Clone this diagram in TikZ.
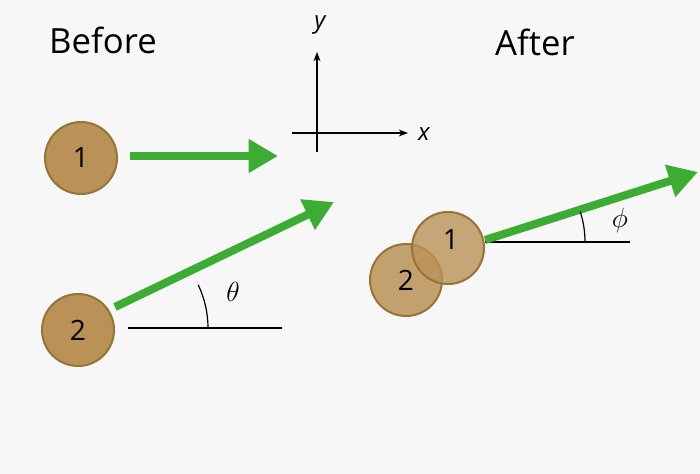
\documentclass[tikz,border=0pt]{standalone}
\usepackage{fontspec}
\setmainfont{Open Sans}
\usetikzlibrary{arrows.meta}
\definecolor{ball}{RGB}{186,146,88}
\definecolor{ballb}{RGB}{150,115,55}
\definecolor{grn}{RGB}{60,172,52}
\tikzset{
  ballst/.style={circle,draw=ballb,line width=1.5pt,fill=ball,minimum size=54pt,inner sep=0pt,font=\fontsize{21}{21}\selectfont},
  garrow/.style={grn,line width=6pt,-{Triangle[length=22pt,width=24pt]}},
  thin/.style={black,line width=0.9pt},
  lbl/.style={font=\fontsize{26}{26}\selectfont}
}
\begin{document}
\begin{tikzpicture}[x=0.75pt,y=-0.75pt]
\useasboundingbox[fill=gray!6] (0,0) rectangle (700,474);
\node[lbl] (before) at (103,40) {Before};
\node[lbl] (after) at (535,42) {After};
% axes
\coordinate (yt) at (317,52);
\coordinate (xt) at (408,133);
\coordinate (xl) at (292,133);
\coordinate (yb) at (317,152);
\draw[thin,-{Stealth[length=7pt]}] (yb) -- (yt);
\draw[thin,-{Stealth[length=7pt]}] (xl) -- (xt);
\node[font=\itshape\fontsize{18}{18}\selectfont] (ylab) at (320,25) {y};
\node[font=\itshape\fontsize{18}{18}\selectfont] (xlab) at (424,134) {x};
% before
\node[ballst] (b1) at (81,158) {1};
\node[ballst] (b2) at (78,330) {2};
\coordinate (a1s) at (130,156); \coordinate (a1e) at (278,156);
\draw[garrow] (a1s) -- (a1e);
\coordinate (a2s) at (115,307); \coordinate (a2e) at (334,202);
\draw[garrow] (a2s) -- (a2e);
\coordinate (h1s) at (128,328); \coordinate (h1e) at (282,328);
\draw[thin] (h1s) -- (h1e);
\draw[thin] (208,328) arc[start angle=0,end angle=25.6,radius=100*0.75pt];
\node[font=\fontsize{22}{22}\selectfont] (theta) at (233,292) {$\theta$};
% after
\node[ballst,fill opacity=0.85,text opacity=1] (c2) at (406,280) {2};
\node[ballst,fill opacity=0.8] (c1) at (448,248) {};
\node[font=\fontsize{21}{21}\selectfont] (c1l) at (451,240) {1};
\coordinate (h2s) at (485,242); \coordinate (h2e) at (630,242);
\draw[thin] (h2s) -- (h2e);
\coordinate (a3s) at (485,240); \coordinate (a3e) at (698,172);
\draw[garrow] (a3s) -- (a3e);
\draw[thin] (585,242) arc[start angle=0,end angle=17.7,radius=100*0.75pt];
\node[font=\fontsize{22}{22}\selectfont] (phi) at (620,221) {$\phi$};
\end{tikzpicture}
\end{document}
